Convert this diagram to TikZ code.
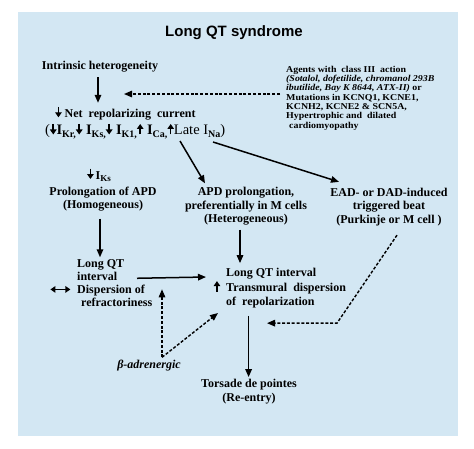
\documentclass[tikz,border=0pt]{standalone}
\usepackage{fontspec}
\setmainfont{Liberation Serif}
\newfontfamily\titlefont{Liberation Sans}
\newfontfamily\agentsfont[FakeStretch=1.1]{Liberation Serif}
\usetikzlibrary{arrows.meta,calc}
\definecolor{bgblue}{HTML}{D3E7F3}
\tikzset{inarr/.style={line width=1.6pt,-{Triangle[length=5pt,width=6.5pt]}}}
\newcommand\dnarr{\tikz[baseline=0pt]\draw[inarr] (0pt,10.5pt) -- (0pt,0pt);}
\newcommand\uparr{\tikz[baseline=0pt]\draw[inarr] (0pt,0pt) -- (0pt,10.5pt);}
\newcommand\lrarr{\tikz[baseline=-4pt]\draw[line width=1.6pt,{Triangle[length=5pt,width=6.5pt]}-{Triangle[length=5pt,width=6.5pt]}] (0pt,0pt) -- (20pt,0pt);}
\newcommand\sub[1]{\raisebox{-2.5pt}{\fontsize{9}{9}\selectfont\bfseries #1}}
\newcommand\subb[1]{\raisebox{-2.8pt}{\fontsize{10}{10}\selectfont\bfseries #1}}
\begin{document}
\begin{tikzpicture}[x=1pt,y=-1pt,
  every node/.style={inner sep=0pt, font=\fontsize{12}{13.5}\selectfont\bfseries, align=center},
  arr/.style={line width=1.5pt,-{Triangle[length=8pt,width=6.5pt]}},
  darr/.style={line width=1.4pt,dash pattern=on 3pt off 1.8pt,-{Triangle[length=8pt,width=6.5pt]}}]
\useasboundingbox (0,0) rectangle (474,448);
\fill[bgblue] (18,12) rectangle (458,436);
\node[font=\titlefont\bfseries\fontsize{15}{18}\selectfont] (title) at (234,33) {Long QT syndrome};
\node (intr) at (100,67) {Intrinsic heterogeneity};
\node[anchor=west] (net) at (55,113) {\dnarr\ Net\ \ repolarizing\ \ current};
\node[anchor=west,font=\fontsize{14.5}{15}\selectfont] (curr) at (45,131) {(\dnarr\textbf{I}\subb{Kr,}\dnarr\ \textbf{I}\subb{Ks,}\dnarr\ \textbf{I}\subb{K1,}\uparr\ \textbf{I}\subb{Ca,}\uparr Late I\subb{Na})};
\node[anchor=west,align=left,font=\agentsfont\fontsize{9}{9.3}\selectfont\bfseries] (agents) at (286,98) {Agents with\ \ class III\ \ action\\ \textit{(Sotalol, dofetilide, chromanol 293B}\\ \textit{ibutilide, Bay K 8644, ATX-II)} or\\ Mutations in KCNQ1, KCNE1,\\ KCNH2, KCNE2 \& SCN5A,\\ Hypertrophic and\ \ dilated\\ \hspace*{3pt}cardiomyopathy};
\node[anchor=base] (iks) at (99,179) {\dnarr\,I\sub{Ks}};
\node (prol) at (103,199) {Prolongation of APD\\(Homogeneous)};
\node[anchor=west,align=left,font=\fontsize{12}{13}\selectfont\bfseries] (lqt1) at (77,283) {Long QT\\interval\\\llap{\lrarr\hspace{6pt}}Dispersion of\\\hspace*{4pt}refractoriness};
\node (apd) at (246,206.5) {APD prolongation,\\preferentially in M cells\\(Heterogeneous)};
\node (ead) at (389,207) {EAD- or DAD-induced\\triggered beat\\(Purkinje or M cell )};
\node[anchor=west,align=left] (lqt2) at (226,288) {Long QT interval\\\llap{\uparr\hspace{6pt}}Transmural\ \ dispersion\\of\ \ repolarization};
\node[font=\fontsize{12}{13.5}\selectfont\bfseries\itshape] (beta) at (149,366) {β-adrenergic};
\node (tdp) at (249,391.5) {Torsade\ de\ pointes\\(Re-entry)};
% connectors
\draw[arr] ($(intr.south)+(-2,4.5)$) -- ($(intr.south |- net.north)+(-2,-3)$);
\draw[darr] ($(agents.west)+(-6,-4)$) -- ++(-156,0);
\draw[arr] ($(curr.west)+(135,10)$) -- ($(apd.north)+(-41,-4)$);
\draw[arr] ($(curr.west)+(168,11)$) -- ($(ead.north)+(-50,-6)$);
\draw[arr] ($(prol.south)+(-3,7)$) -- ($(prol.south |- lqt1.north)+(-3,-2)$);
\draw[arr] ($(lqt1.north west)+(60,19)$) -- ($(lqt2.west)+(-20,-11)$);
\draw[arr] ($(apd.south)+(-6,4)$) -- ($(apd.south |- lqt2.north)+(-6,-5)$);
\draw[arr] ($(lqt2.south)+(-37.5,8)$) -- ($(lqt2.south |- tdp.north)+(-37.5,-2)$);
\draw[darr] ($(ead.south)+(8,9)$) -- ++(-60,88) -- ++(-70,0);
\coordinate (bj) at ($(beta.north)+(13,-3)$);
\draw[darr] (bj) -- ++(0,-68);
\draw[darr] (bj) -- ($(lqt2.west)+(-8,25)$);
\end{tikzpicture}
\end{document}
